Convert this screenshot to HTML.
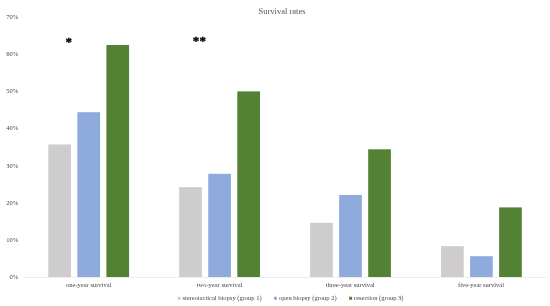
<!DOCTYPE html>
<html><head><meta charset="utf-8"><title>Survival rates</title>
<style>
html,body{margin:0;padding:0;background:#fff;}
body{width:550px;height:306px;position:relative;overflow:hidden;font-family:"Liberation Serif",serif;color:#454545;}
.b{position:absolute;}
.t{position:absolute;white-space:nowrap;font-size:6.5px;line-height:8px;}
.yl{text-align:right;width:18.2px;left:0;}
.cl{text-align:center;width:120px;}
.ttl{position:absolute;white-space:nowrap;font-size:8.5px;line-height:10px;left:182px;width:200px;text-align:center;top:5.5px;color:#555;}
.st{position:absolute;white-space:nowrap;font-weight:bold;color:#000;font-size:13px;line-height:14px;-webkit-text-stroke:0.35px #000;}
</style></head><body>

<svg class="b" style="left:0;top:0" width="550" height="306" viewBox="0 0 550 306"><rect x="48.30" y="144.48" width="22.70" height="132.52" fill="#cecccc"/><rect x="77.35" y="112.19" width="22.70" height="164.81" fill="#8faadc"/><rect x="106.40" y="45.00" width="22.70" height="232.00" fill="#548235"/><rect x="179.20" y="187.17" width="22.70" height="89.83" fill="#cecccc"/><rect x="208.25" y="173.81" width="22.70" height="103.19" fill="#8faadc"/><rect x="237.30" y="91.40" width="22.70" height="185.60" fill="#548235"/><rect x="310.10" y="222.80" width="22.70" height="54.20" fill="#cecccc"/><rect x="339.15" y="194.96" width="22.70" height="82.04" fill="#8faadc"/><rect x="368.20" y="149.31" width="22.70" height="127.69" fill="#548235"/><rect x="441.00" y="246.19" width="22.70" height="30.81" fill="#cecccc"/><rect x="470.05" y="256.21" width="22.70" height="20.79" fill="#8faadc"/><rect x="499.10" y="207.40" width="22.70" height="69.60" fill="#548235"/><rect x="23.30" y="277.00" width="523.10" height="0.7" fill="#e6e6e6"/><rect x="177.60" y="296.75" width="3" height="3" fill="#cecccc"/><rect x="273.90" y="296.75" width="3" height="3" fill="#8faadc"/><rect x="349.10" y="296.75" width="3" height="3" fill="#548235"/></svg>
<div class="ttl">Survival rates</div>
<div class="t yl" style="top:273.1px">0%</div>
<div class="t yl" style="top:235.9px">10%</div>
<div class="t yl" style="top:198.7px">20%</div>
<div class="t yl" style="top:161.5px">30%</div>
<div class="t yl" style="top:124.3px">40%</div>
<div class="t yl" style="top:87.1px">50%</div>
<div class="t yl" style="top:49.9px">60%</div>
<div class="t yl" style="top:12.7px">70%</div>
<div class="t cl" style="left:28.7px;top:281px">one-year survival</div>
<div class="t cl" style="left:159.5px;top:281px">two-year survival</div>
<div class="t cl" style="left:290.2px;top:281px">three-year survival</div>
<div class="t cl" style="left:421.0px;top:281px">five-year survival</div>
<div class="st" style="left:65.5px;top:34px;transform:translateY(0.7px)">*</div>
<div class="st" style="left:192.7px;top:33px;letter-spacing:0.3px;transform:translateY(0.9px)">**</div>
<div class="t" style="left:182.4px;top:294.2px">stereotactical biopsy (group 1)</div>
<div class="t" style="left:279.0px;top:294.2px">open biopsy (group 2)</div>
<div class="t" style="left:354.0px;top:294.2px">resection (group 3)</div>
</body></html>
